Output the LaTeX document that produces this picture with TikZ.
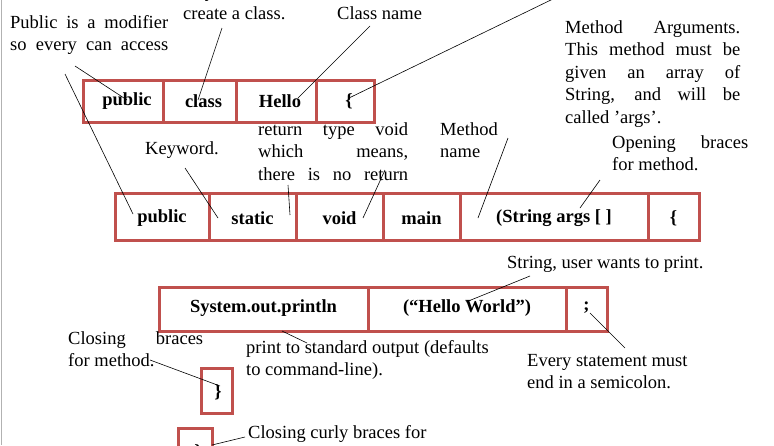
\documentclass[tikz,border=0pt]{standalone}
\usepackage{fontspec}
\setmainfont{Liberation Serif}
\definecolor{boxred}{RGB}{192,80,77}
\newcommand{\jline}[2]{\makebox[#1][s]{#2}}
\begin{document}
\begin{tikzpicture}[x=1pt,y=-1pt,
  cell/.style={draw=boxred, line width=3pt},
  lbl/.style={font=\fontsize{18.5}{22.5}\selectfont, anchor=north west, inner sep=0, align=left},
  bx/.style={font=\fontsize{18.5}{22}\selectfont\bfseries, inner sep=0},
  ln/.style={black, line width=0.6pt}]
\useasboundingbox (0,0) rectangle (774,445);
\clip (0,0) rectangle (774,445);
\draw[gray!60] (1,0) -- (1,445);
% row 1
\foreach \a/\b/\t [count=\i] in {83/163/public,163/236/class,236/316/Hello,316/374/\{}
  {\draw[cell] (\a,80) rectangle (\b,122); \node[bx] (r1\i) at ({(\a+\b)/2+4},101) {\t};}
% row 2
\foreach \a/\b/\t [count=\i] in {115/209/public,209/296/static,296/383/void,383/460/main,460/648/{(String args [ ]},648/699/\{}
  {\draw[cell] (\a,193) rectangle (\b,240); \node[bx] (r2\i) at ({(\a+\b)/2},218) {\t};}
% row 3
\foreach \a/\b/\t [count=\i] in {159/368/System.out.println,368/566/{(“Hello World”)},566/607/;}
  {\draw[cell] (\a,287) rectangle (\b,331); \node[bx] (r3\i) at ({(\a+\b)/2},308) {\t};}
\draw[cell] (201,368) rectangle (232,413); \node[bx] (cb1) at (218,392) {\}};
\draw[cell] (178,428) rectangle (212,460); \node[bx] (cb2) at (198,452) {\}};
% labels
\node[lbl] (pub) at (10,15) {\jline{158pt}{Public is a modifier}\\\jline{158pt}{so every can access}};
\node[lbl] (cls) at (183,-16) {Key word used to};
\node[lbl] (cls2) at (183,6) {create a class.};
\node[lbl] (cn) at (337,6) {Class name};
\node[lbl] (ma) at (565,20) {\jline{175pt}{Method Arguments.}\\\jline{175pt}{This method must be}\\\jline{175pt}{given an array of}\\\jline{175pt}{String, and will be}\\called ’args’.};
\node[lbl] (rt) at (258,122) {\jline{150pt}{return type void}\\\jline{150pt}{which means,}\\\jline{150pt}{there is no return}};
\node[lbl] (kw) at (145,141) {Keyword.};
\node[lbl] (mn) at (440,122) {Method\\name};
\node[lbl] (ob) at (612,135) {\jline{136pt}{Opening braces}\\for method.};
\node[lbl] (sp) at (507,256) {String, user wants to print.};
\node[lbl] (po) at (246,340) {print to standard output (defaults\\to command-line).};
\node[lbl] (es) at (527,354) {Every statement must\\end in a semicolon.};
\node[lbl] (clb) at (68,331) {\jline{135pt}{Closing braces}\\for method.};
\node[lbl] (ccb) at (248,425) {Closing curly braces for};
% connectors
\coordinate (tr) at (555,-2);
\draw[ln] (75,66) -- (127,100);
\draw[ln] (65,74) -- (133,214);
\draw[ln] (222,28) -- (198,100);
\draw[ln] (370,26) -- (298,98);
\draw[ln] (tr) -- (349,98);
\draw[ln] (185,168) -- (218,218);
\draw[ln] (288,185) -- (290,215);
\draw[ln] (385,170) -- (363,218);
\draw[ln] (508,138) -- (478,218);
\draw[ln] (600,180) -- (580,208);
\draw[ln] (530,276) -- (466,302);
\draw[ln] (307,343) -- (282,331);
\draw[ln] (625,348) -- (590,313);
\draw[ln] (150,360) -- (220,386);
\draw[ln] (245,437) -- (212,445);
\end{tikzpicture}
\end{document}
